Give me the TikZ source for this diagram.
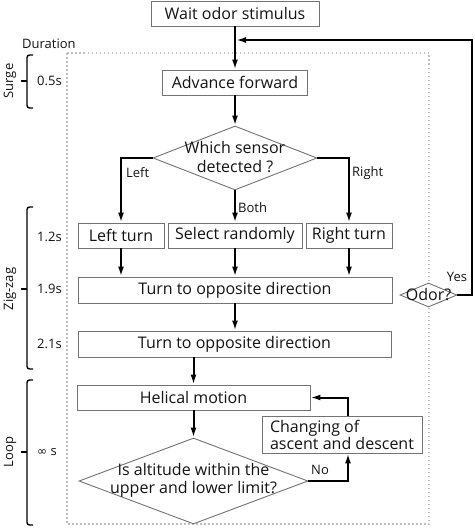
\documentclass[tikz,border=0pt]{standalone}
\usepackage{fontspec}
\setmainfont{Open Sans}
\newfontfamily\symfont{DejaVu Sans}
\usetikzlibrary{shapes.geometric,arrows.meta}
\definecolor{boxgray}{gray}{0.45}
\definecolor{dotgray}{gray}{0.75}
\definecolor{ink}{gray}{0.08}
\begin{document}
\begin{tikzpicture}[x=1pt,y=-1pt,
  box/.style={draw=boxgray, fill=white, line width=0.9pt, inner sep=0pt, text=ink, font=\fontsize{16}{19}\selectfont},
  dia/.style={draw=boxgray, fill=white, line width=0.9pt, diamond, inner sep=0pt},
  txt/.style={inner sep=0pt, text=ink, font=\fontsize{16}{19}\selectfont},
  flow/.style={line width=2pt, -{Latex[length=10pt,width=6pt]}},
  lbl/.style={inner sep=0pt, text=ink, font=\fontsize{13}{15}\selectfont},
  bracepath/.style={line width=1.4pt, rounded corners=2.5pt}]
\useasboundingbox (0,0) rectangle (474,530);
\fill[white] (0,0) rectangle (474,530);

% dotted frame
\draw[dotgray, line width=1.5pt, dash pattern=on 1.5pt off 2.5pt] (67,53) rectangle (429,524);

% nodes
\node[box, minimum width=168, minimum height=25] (wait) at (235,13.5) {Wait odor stimulus};
\node[box, minimum width=145, minimum height=25] (adv) at (235,82.5) {Advance forward};
\node[dia, minimum width=164, minimum height=64] (d1) at (235,158) {};
\node[txt, align=center] (d1t) at (235,157.5) {Which sensor\\detected ?};
\node[box, minimum width=86, minimum height=25] (lt) at (121,235.5) {Left turn};
\node[box, minimum width=134, minimum height=25] (sel) at (235,235.5) {Select randomly};
\node[box, minimum width=86, minimum height=25] (rt) at (349,235.5) {Right turn};
\node[box, minimum width=314, minimum height=26] (t1) at (235,290) {Turn to opposite direction};
\node[box, minimum width=313, minimum height=26] (t2) at (234.5,344) {Turn to opposite direction};
\node[box, minimum width=233, minimum height=25] (hel) at (193.5,397.5) {Helical motion};
\node[dia, minimum width=229, minimum height=86] (d2) at (193.5,481) {};
\node[txt, align=center, font=\fontsize{16}{17.5}\selectfont] (d2t) at (193.5,480.5) {Is altitude within the\\upper and lower limit?};
\node[box, minimum width=160, minimum height=37, align=left, font=\fontsize{16}{15}\selectfont] (chg) at (342,434.5) {Changing of\\ascent and descent};
\node[dia, minimum width=57, minimum height=24] (odor) at (428.5,295) {};
\node[txt] (odort) at (428.5,294.5) {Odor?};

% helper coordinates
\coordinate (fb) at (472,40);
\coordinate (join) at (236,40);
\coordinate (nox) at (348,0);

% connectors
\draw[flow] (wait.south) -- (adv.north);
\draw[flow] (odor.east) -| (fb) -- (join);
\draw[flow] (adv.south) -- (d1.north);
\draw[flow] (d1.west) -| (lt.north);
\draw[flow] (d1.east) -| (rt.north);
\draw[flow] (d1.south) -- (sel.north);
\draw[flow] (lt.south) -- (lt.south |- t1.north);
\draw[flow] (sel.south) -- (sel.south |- t1.north);
\draw[flow] (rt.south) -- (rt.south |- t1.north);
\draw[flow] (t1.south) -- (t1.south |- t2.north);
\draw[flow] (hel.north |- t2.south) -- (hel.north);
\draw[flow] (hel.south) -- (d2.north);
\draw[flow] (d2.east) -| (chg.south -| nox);
\draw[flow] (chg.north -| nox) |- (hel.east);

% branch labels
\node[lbl, anchor=west] (lleft) at (126,173) {Left};
\node[lbl, anchor=west] (lright) at (352,173) {Right};
\node[lbl, anchor=west] (lboth) at (238,208) {Both};
\node[lbl, anchor=west] (lno) at (311,470) {No};
\node[lbl] (lyes) at (457,277) {Yes};

% durations
\node[lbl, anchor=west] (ldur) at (22,44) {Duration};
\node[lbl, anchor=west] (d05) at (37,81) {0.5s};
\node[lbl, anchor=west] (d12) at (37,237) {1.2s};
\node[lbl, anchor=west] (d19) at (37,289) {1.9s};
\node[lbl, anchor=west] (d21) at (37,344) {2.1s};
\node[lbl, anchor=west] (dinf) at (37,452) {{\symfont\fontsize{12}{14}\selectfont ∞} s};

% braces
\draw[bracepath] (33,55) -- (27,55) -- (27,108) -- (33,108);
\draw[line width=1.4pt] (27,81) -- (21,81);
\draw[bracepath] (33,207) -- (27,207) -- (27,369) -- (33,369);
\draw[line width=1.4pt] (27,289) -- (21,289);
\draw[bracepath] (33,380) -- (27,380) -- (27,525) -- (33,525);
\draw[line width=1.4pt] (27,452) -- (21,452);

\node[lbl, rotate=90] (lsurge) at (10,81) {Surge};
\node[lbl, rotate=90] (lzig) at (10,289) {Zig-zag};
\node[lbl, rotate=90] (lloop) at (10,452) {Loop};
\end{tikzpicture}
\end{document}
